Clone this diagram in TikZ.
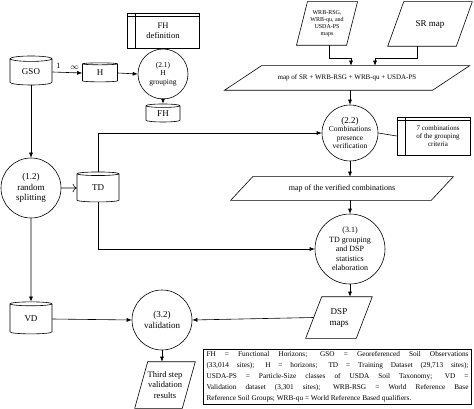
\documentclass[tikz,border=0pt]{standalone}
\usepackage{fontspec}
\setmainfont{Liberation Serif}
\usepackage{tikz}
\usetikzlibrary{shapes.geometric, arrows.meta}
\tikzstyle{arrow} = [-{Latex[length=5pt,width=4pt]}]
\tikzstyle{store} = [cylinder, shape border rotate=90, aspect=0.3, draw, line width=0.6pt, inner sep=0pt, font=\fontsize{9}{10}\selectfont]
\tikzstyle{process} = [circle, draw, line width=0.6pt, inner sep=0pt, align=center]
\tikzstyle{datatext} = [inner sep=0pt, align=center]
\tikzstyle{extbox} = [rectangle, draw, line width=0.6pt, inner sep=0pt, align=center]
\newcommand{\slantbox}[2]{\draw[line width=0.6pt] ([xshift=#2]#1.north west) -- ([xshift=#2]#1.north east) -- ([xshift=-#2]#1.south east) -- ([xshift=-#2]#1.south west) -- cycle;}
\newcommand{\sidebar}[3]{\draw[line width=0.6pt] ([xshift=#2]#1.north west) -- ([xshift=#2]#1.south west); \draw[line width=0.6pt] ([yshift=-#3]#1.north west) -- ([yshift=-#3]#1.north east);}

\begin{document}
\begin{tikzpicture}[x=1pt, y=-1pt, line width=0.6pt]
        \useasboundingbox (0,0) rectangle (474,409);
        % Soil observations
        \node[store, minimum width=42pt, minimum height=29pt] (gso) at (31,72) {GSO};
        \node[store, minimum width=35pt, minimum height=19pt] (hor) at (100,73) {H};
        \node[process, minimum size=50pt, font=\fontsize{7.5}{8.5}\selectfont] (p21) at (163,74) {(2.1)\\H\\grouping};
        \node[extbox, minimum width=72pt, minimum height=35pt, font=\fontsize{8.5}{10}\selectfont] (fhdef) at (163,30.5) {FH\\definition};
        \sidebar{fhdef}{9}{4}
        \node[store, minimum width=34pt, minimum height=18pt] (fh) at (163,114) {FH};

        % Input maps
        \node[datatext, minimum width=49.5pt, minimum height=43pt, font=\fontsize{6}{7}\selectfont] (rsgmap) at (327,23.5) {WRB-RSG,\\WRB-qu, and\\USDA-PS\\maps};
        \slantbox{rsgmap}{5.5}
        \node[datatext, minimum width=68pt, minimum height=44pt, font=\fontsize{9}{10}\selectfont] (srmap) at (430,24) {SR map};
        \slantbox{srmap}{8}
        \node[datatext, minimum width=207.5pt, minimum height=24pt, font=\fontsize{7}{8}\selectfont] (allmap) at (347,78) {map of SR + WRB-RSG + WRB-qu + USDA-PS};
        \slantbox{allmap}{18.5}

        % Combinations
        \node[process, minimum size=56pt, font=\fontsize{7.5}{8.5}\selectfont] (p22) at (350,133) {{\fontsize{9}{10}\selectfont(2.2)}\\Combinations\\presence\\verification};
        \node[extbox, minimum width=73pt, minimum height=38pt, font=\fontsize{7}{8}\selectfont] (comb) at (433.5,136) {\hspace*{9pt}7 combinations\\\hspace*{9pt}of the grouping\\\hspace*{9pt}criteria};
        \sidebar{comb}{9}{3.5}
        \node[datatext, minimum width=200pt, minimum height=23pt, font=\fontsize{8}{9}\selectfont] (vermap) at (342,188.5) {map of the verified combinations};
        \slantbox{vermap}{11}

        % Grouping and validation
        \node[process, minimum size=70pt, font=\fontsize{8}{9.5}\selectfont] (p31) at (350,249) {(3.1)\\TD grouping\\and DSP\\statistics\\elaboration};
        \node[datatext, minimum width=50pt, minimum height=41pt, font=\fontsize{9}{11}\selectfont] (dsp) at (339,317.5) {DSP\\maps};
        \slantbox{dsp}{8}
        \node[process, minimum size=60pt, font=\fontsize{9}{10.5}\selectfont] (p12) at (31,188) {(1.2)\\random\\splitting};
        \node[store, minimum width=42pt, minimum height=30pt] (td) at (98,188) {TD};
        \node[store, minimum width=42pt, minimum height=32pt] (vd) at (31,319) {VD};
        \node[process, minimum size=60pt, font=\fontsize{9}{10.5}\selectfont] (p32) at (162,320) {(3.2)\\validation};
        \node[datatext, minimum width=47pt, minimum height=46pt, font=\fontsize{8.5}{10.5}\selectfont] (third) at (165,385) {Third step\\validation\\results};
        \slantbox{third}{6.5}

        % Legend
        \node[draw, line width=1pt, anchor=north, inner xsep=3pt, inner ysep=2pt, text width=262pt, align=justify] (legend) at (337.5,349) {\fontsize{7.3}{11}\selectfont FH = Functional Horizons; GSO = Georeferenced Soil Observations\linebreak (33,014 sites); H = horizons; TD = Training Dataset (29,713 sites);\linebreak USDA-PS = Particle-Size classes of USDA Soil Taxonomy; VD =\linebreak Validation dataset (3,301 sites); WRB-RSG = World Reference Base\linebreak Reference Soil Groups; WRB-qu = World Reference Based qualifiers.\par};

        % Connectors
        \draw[arrow] (gso.east) -- (hor.west) node[pos=0.2, above, font=\fontsize{8}{9}\selectfont] {1} node[pos=0.75, above, font=\fontsize{8}{9}\selectfont] {$\infty$};
        \draw[arrow] (hor.east) -- (p21.west);
        \draw (fhdef.south) -- (p21.north);
        \draw[arrow] (p21.south) -- (fh.north);
        \draw[arrow] ([xshift=2]rsgmap.south) -- ++(0,13) -| ([xshift=4]allmap.north);
        \draw[arrow] ([xshift=-13]srmap.south) -- ++(0,12) -| ([xshift=28]allmap.north);
        \draw[arrow] (p22.north |- allmap.south) -- (p22.north);
        \draw[arrow] (td.north) |- (p22.west);
        \draw (p22.east) -- (comb.west);
        \draw[arrow] (p22.south) -- (p22.south |- vermap.north);
        \draw[arrow] (p31.north |- vermap.south) -- (p31.north);
        \draw[arrow] (td.south) |- (p31.west);
        \draw[arrow] (p31.south) -- (p31.south |- dsp.north);
        \draw[arrow] (dsp.west) -- (p32.east);
        \draw[arrow] (gso.south) -- (p12.north);
        \draw[-{To[length=4pt]}] (p12.east) -- (td.west);
        \draw[arrow] (p12.south) -- (vd.north);
        \draw[arrow] (vd.east) -- (p32.west);
        \draw[arrow] (p32.south) -- (p32.south |- third.north);
\end{tikzpicture}
\end{document}
